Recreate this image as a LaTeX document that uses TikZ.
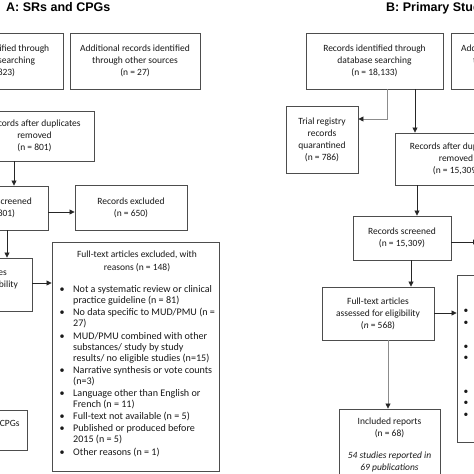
\documentclass[tikz,border=0pt]{standalone}
\usepackage{fontspec}
\setmainfont{Carlito}
\newfontfamily\titlefont{Liberation Sans}
\usetikzlibrary{arrows.meta}
\definecolor{boxline}{HTML}{4D4D4D}
\definecolor{grayline}{HTML}{8C8C8C}
\newcommand{\bul}{\makebox[13.5pt][l]{•}}
\newcommand{\ind}{\hspace*{13.5pt}}
\begin{document}
\begin{tikzpicture}[x=1pt,y=-1pt,
 box/.style={draw=boxline, line width=0.9pt, fill=white, align=center, inner sep=0pt, font=\fontsize{9.5}{12}\selectfont, text=black!90},
 txt/.style={inner sep=0pt, font=\fontsize{9.5}{12}\selectfont, text=black!90},
 arr/.style={draw=black!85, line width=0.8pt, -{Triangle[length=5pt,width=5pt,color=black!85]}},
 garr/.style={draw=grayline, line width=0.8pt, -{Triangle[length=5pt,width=5pt,color=black!85]}},
 ttl/.style={inner sep=0pt, font=\titlefont\bfseries\fontsize{12.5}{14}\selectfont}]
\fill[white] (0,0) rectangle (474,474);
\useasboundingbox (0,0) rectangle (474,474);
\clip (0,0) rectangle (474,474);

% titles
\node[ttl, anchor=base west] (TA) at (6,11) {A: SRs and CPGs};
\node[ttl, anchor=base west] (TB) at (386,11) {B: Primary Studies};

% ---- A ----
\node[box, minimum width=130, minimum height=56] (A1) at (-2,61) {Records identified through\\database searching\\(n = 823)};
\node[box, minimum width=130, minimum height=56] (A2) at (135,61) {Additional records identified\\through other sources\\(n = 27)};
\node[box, minimum width=119, minimum height=50] (A3) at (34.5,136) {Records after duplicates\\removed\\(n = 801)};
\node[box, minimum width=100, minimum height=44] (A4) at (-2,208) {Records screened\\(n = 801)};
\node[box, minimum width=112, minimum height=45] (AE) at (131,207.5) {Records excluded\\(n = 650)};
\node[box, minimum width=112, minimum height=53] (A5) at (-24,284.5) {Full-text articles\\assessed for eligibility\\(n = 151)};
\node[box, minimum width=167, minimum height=229] (AX) at (135.5,356.5) {};
\node[box, minimum width=102, minimum height=40] (A6) at (-24,430) {Included SRs and CPGs\\(n = 3)};

\node[txt, anchor=north, align=center, font=\fontsize{9.5}{13}\selectfont] (AXh) at (137,251) {Full-text articles excluded, with\\reasons (n = 148)};
\node[txt, anchor=north west, align=left, font=\fontsize{10.1}{11}\selectfont] (AXl) at (59.5,285.5) {%
\bul Not a systematic review or clinical\\
\ind practice guideline (n = 81)\\[1.2pt]
\bul No data specific to MUD/PMU (n =\\
\ind 27)\\[1.2pt]
\bul MUD/PMU combined with other\\
\ind substances/ study by study\\
\ind results/ no eligible studies (n=15)\\[1.2pt]
\bul Narrative synthesis or vote counts\\
\ind (n=3)\\[1.2pt]
\bul Language other than English or\\
\ind French (n = 11)\\[1.2pt]
\bul Full-text not available (n = 5)\\[1.2pt]
\bul Published or produced before\\
\ind 2015 (n = 5)\\[1.2pt]
\bul Other reasons (n = 1)};

\draw[arr] (A3.south -| 14,0) -- (A4.north -| 14,0);
\draw[arr] (A4.east |- 0,212) -- (AE.west |- 0,212);
\draw[arr] (A4.south -| 7,0) -- (A5.north -| 7,0);
\draw[arr] (A5.east |- 0,283) -- (AX.west |- 0,283);

% ---- B ----
\node[box, minimum width=137, minimum height=56] (B1) at (374.5,61) {Records identified through\\database searching\\(n = 18,133)};
\node[box, minimum width=130, minimum height=56] (B2) at (516,61) {Additional records identified\\through other sources\\(n = 13)};
\node[box, minimum width=72, minimum height=67] (TR) at (322,139.5) {Trial registry\\records\\quarantined\\(n = 786)};
\node[box, minimum width=122, minimum height=52] (B3) at (456,159) {Records after duplicates\\removed\\(n = 15,309)};
\node[box, minimum width=98, minimum height=44] (B4) at (402,238) {Records screened\\(n = 15,309)};
\node[box, minimum width=112, minimum height=53] (B5) at (378,313.5) {Full-text articles\\assessed for eligibility\\(\textit{n} = 568)};
\node[box, minimum width=170, minimum height=167] (BX) at (542,358.5) {};
\node[box, minimum width=101, minimum height=72] (B6) at (389.5,445) {Included reports\\(n = 68)\\[10pt]\textit{54 studies reported in}\\\textit{69 publications}};
\coordinate (Boff) at (478,242);

\foreach \y [count=\i] in {311,323,347,358,392,403,415}
  \node[txt] (bb\i) at (466,\y) {•};

\draw[garr] (B1.south -| 387,0) |- (TR.east |- 0,119);
\draw[arr] (B1.south -| 415,0) -- (B3.north -| 415,0);
\draw[arr] (B3.south -| 417,0) -- (B4.north -| 417,0);
\draw[arr] (B4.east |- 0,242) -- (Boff);
\draw[arr] (B4.south -| 411,0) -- (B5.north -| 411,0);
\draw[arr] (B5.east |- 0,313) -- (BX.west |- 0,313);
\draw[garr] (B5.south -| 388,0) -- (B6.north -| 388,0);
\end{tikzpicture}
\end{document}
